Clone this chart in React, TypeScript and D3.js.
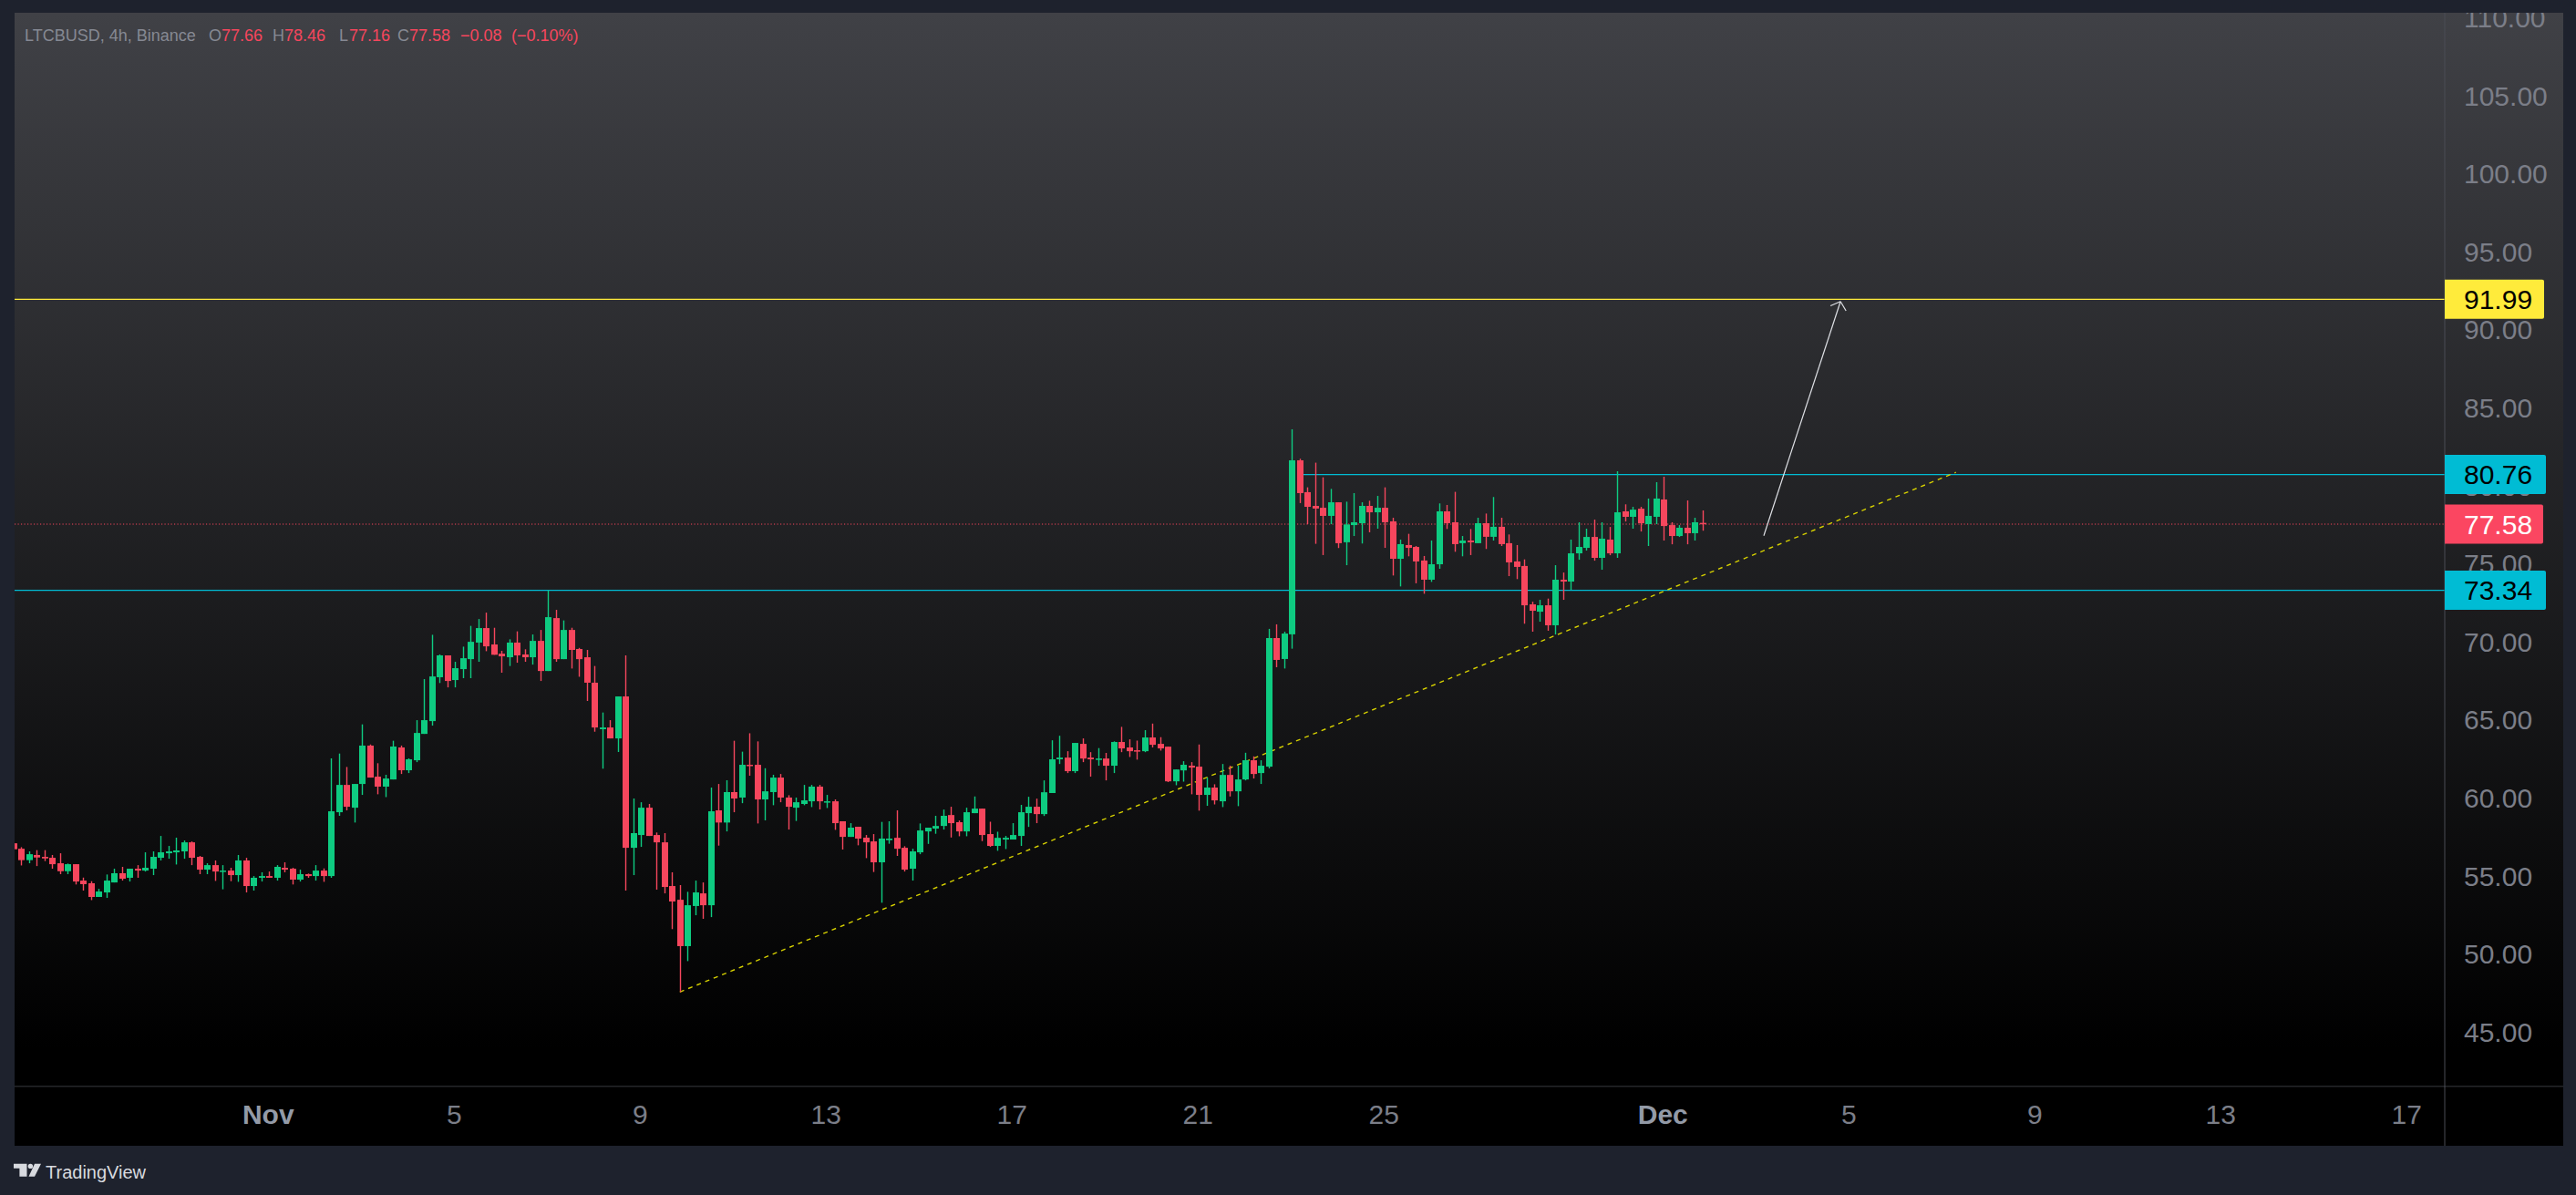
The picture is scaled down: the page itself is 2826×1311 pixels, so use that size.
// LTCBUSD 4h candlestick chart, dark TradingView style
import * as d3 from 'd3';

const opens = [
  57.13, 56.78, 56.05, 56.38, 56.26, 56.20, 55.85, 55.34, 55.79, 54.74,
  54.57, 53.69, 53.98, 54.62, 55.21, 54.92, 55.50, 55.38, 55.50, 56.20,
  56.49, 56.55, 56.61, 57.19, 56.26, 55.44, 55.73, 55.32, 55.38, 55.09,
  56.03, 54.39, 54.92, 55.03, 54.92, 55.56, 55.50, 54.80, 55.15, 55.03,
  55.38, 55.03, 59.12, 60.87, 59.41, 60.93, 63.39, 61.40, 60.76, 61.22,
  63.27, 61.81, 62.45, 64.14, 64.96, 67.77, 69.17, 67.59, 68.29, 68.93,
  69.99, 70.92, 69.87, 69.28, 69.05, 69.99, 69.23, 69.05, 70.10, 68.17,
  71.56, 68.93, 70.80, 69.58, 69.05, 67.42, 64.44, 64.55, 63.85, 66.54,
  56.84, 57.66, 59.41, 57.66, 57.19, 54.39, 53.51, 50.54, 53.11, 53.92,
  53.16, 59.24, 58.46, 60.41, 60.06, 62.16, 62.16, 59.94, 60.41, 61.34,
  60.06, 59.41, 59.65, 59.82, 60.76, 59.76, 59.82, 58.54, 57.54, 58.19,
  57.49, 57.25, 55.91, 57.33, 57.48, 56.84, 55.50, 56.55, 57.89, 58.07,
  58.24, 58.94, 58.48, 57.89, 59.06, 59.35, 57.72, 56.96, 57.37, 57.37,
  57.60, 59.06, 59.47, 59.00, 60.35, 62.51, 62.62, 61.75, 63.50, 62.62,
  62.51, 62.56, 62.10, 63.62, 63.27, 63.09, 63.03, 63.91, 63.50, 63.32,
  61.10, 61.80, 62.10, 62.04, 60.23, 60.70, 59.82, 61.51, 60.46, 61.22,
  62.45, 61.63, 62.04, 70.28, 68.94, 70.52, 81.67, 79.63, 78.75, 78.63,
  78.11, 78.98, 76.42, 77.52, 77.64, 78.75, 78.34, 78.63, 77.76, 75.36,
  76.24, 76.12, 75.25, 74.02, 75.01, 78.40, 77.70, 76.36, 76.53, 76.36,
  77.64, 76.77, 77.41, 76.36, 75.19, 74.90, 72.44, 71.97, 72.38, 71.10,
  74.02, 73.90, 75.71, 76.06, 76.76, 75.42, 76.59, 75.71, 78.40, 78.05,
  78.57, 77.58, 78.05, 79.16, 77.52, 76.82, 77.35, 77.00, 77.66,
];

const highs = [
  57.13, 56.88, 56.61, 56.69, 56.69, 56.38, 56.49, 55.83, 55.79, 54.93,
  54.70, 54.21, 55.13, 55.50, 55.62, 55.50, 55.73, 56.55, 56.61, 57.60,
  56.96, 57.49, 57.31, 57.25, 56.32, 55.85, 56.03, 55.73, 55.56, 56.38,
  56.20, 55.03, 55.27, 55.32, 55.73, 55.91, 55.56, 55.44, 55.19, 55.73,
  55.52, 62.57, 62.88, 62.02, 60.93, 64.75, 63.46, 62.26, 61.52, 63.70,
  63.39, 62.57, 65.02, 67.65, 70.49, 69.23, 69.17, 68.76, 69.73, 71.06,
  71.50, 71.91, 70.94, 69.46, 70.20, 70.71, 69.56, 70.51, 70.80, 73.34,
  72.09, 71.41, 70.94, 69.65, 69.52, 68.49, 65.51, 65.02, 66.54, 69.17,
  60.00, 59.76, 59.65, 57.82, 57.78, 55.27, 54.45, 54.02, 54.74, 54.62,
  60.70, 60.93, 61.17, 63.70, 63.00, 64.18, 63.66, 61.94, 61.52, 61.57,
  60.21, 60.06, 60.87, 60.87, 60.87, 60.23, 59.94, 58.54, 58.42, 58.19,
  57.66, 57.72, 58.50, 58.54, 59.24, 56.94, 56.78, 58.40, 58.13, 58.89,
  59.29, 59.47, 58.59, 59.41, 60.13, 59.35, 58.51, 57.87, 57.60, 58.42,
  59.59, 60.11, 59.99, 61.16, 63.73, 64.02, 63.03, 63.56, 63.85, 62.97,
  63.23, 62.92, 63.66, 64.59, 63.79, 63.71, 64.38, 64.80, 63.93, 63.32,
  61.86, 62.39, 62.33, 63.46, 61.34, 60.91, 62.21, 62.10, 62.10, 62.93,
  62.70, 62.45, 70.87, 71.16, 70.69, 83.66, 81.77, 79.94, 81.52, 80.58,
  79.84, 78.98, 79.02, 79.57, 78.98, 79.08, 79.39, 79.94, 77.99, 76.59,
  76.96, 76.18, 75.54, 76.53, 78.91, 78.81, 79.65, 76.82, 77.27, 77.99,
  78.26, 79.32, 77.99, 76.92, 76.24, 75.32, 72.61, 72.73, 72.81, 74.95,
  74.48, 76.59, 77.70, 77.29, 77.87, 77.70, 77.40, 80.97, 78.85, 78.69,
  78.69, 79.22, 80.27, 80.62, 77.70, 77.52, 79.10, 77.99, 78.46,
];

const lows = [
  56.75, 55.71, 55.85, 55.67, 55.99, 55.50, 55.15, 55.15, 54.49, 54.10,
  53.49, 53.69, 53.63, 54.62, 54.74, 54.68, 54.92, 55.32, 55.09, 56.03,
  56.14, 55.77, 56.14, 55.73, 55.15, 55.15, 54.72, 54.18, 54.70, 54.66,
  53.98, 54.10, 54.68, 54.92, 54.74, 55.27, 54.49, 54.68, 54.92, 54.74,
  54.66, 54.92, 58.89, 59.24, 58.46, 60.23, 61.34, 60.27, 60.09, 61.22,
  61.57, 61.63, 62.33, 64.14, 64.67, 67.40, 67.12, 67.12, 67.71, 67.71,
  68.76, 69.44, 69.21, 68.06, 68.49, 68.70, 68.76, 68.58, 67.53, 68.17,
  68.76, 68.93, 68.33, 67.80, 66.25, 64.28, 61.91, 63.85, 62.98, 54.10,
  55.09, 56.90, 57.60, 54.16, 53.92, 51.63, 47.60, 49.58, 52.52, 52.29,
  52.40, 56.98, 57.89, 59.12, 59.70, 61.46, 58.40, 58.60, 59.57, 59.76,
  58.01, 58.56, 59.57, 59.45, 59.30, 59.39, 57.99, 56.73, 57.54, 57.00,
  56.18, 55.29, 53.32, 57.10, 56.32, 55.32, 54.74, 56.43, 57.09, 57.74,
  58.01, 57.50, 57.58, 57.58, 59.06, 57.27, 56.90, 56.65, 56.76, 57.37,
  56.96, 58.18, 58.42, 58.88, 60.35, 62.21, 61.63, 61.63, 62.33, 61.40,
  62.10, 61.16, 61.63, 62.97, 62.66, 62.49, 62.97, 63.27, 63.07, 61.05,
  60.85, 61.08, 60.27, 59.22, 59.53, 59.62, 59.45, 60.13, 59.51, 61.16,
  61.28, 60.93, 61.93, 68.41, 68.33, 69.60, 78.93, 77.58, 76.32, 75.60,
  77.58, 76.05, 74.95, 76.82, 76.34, 77.06, 77.29, 76.06, 74.29, 73.59,
  75.52, 73.79, 73.12, 73.88, 74.72, 77.27, 75.81, 75.52, 75.60, 76.36,
  75.99, 76.53, 76.18, 74.25, 74.06, 71.20, 70.69, 71.33, 70.75, 70.51,
  72.73, 73.37, 75.30, 75.89, 75.24, 74.66, 75.59, 75.42, 77.75, 77.29,
  77.11, 76.18, 77.58, 76.53, 76.29, 76.76, 76.29, 76.53, 77.16,
];

const closes = [
  56.75, 56.05, 56.43, 56.22, 56.16, 55.79, 55.34, 55.79, 54.68, 54.51,
  53.69, 54.04, 54.74, 55.21, 54.86, 55.50, 55.38, 55.56, 56.26, 56.55,
  56.61, 56.67, 57.19, 56.20, 55.44, 55.73, 55.32, 55.38, 55.09, 56.03,
  54.39, 54.92, 55.03, 54.92, 55.62, 55.44, 54.80, 55.15, 55.03, 55.38,
  55.03, 59.18, 60.87, 59.47, 60.93, 63.39, 61.34, 60.76, 61.28, 63.33,
  61.81, 62.51, 64.20, 65.02, 67.82, 69.17, 67.53, 68.35, 68.99, 70.04,
  70.92, 69.75, 69.21, 69.11, 69.99, 69.17, 69.05, 70.10, 68.17, 71.62,
  68.93, 70.80, 69.52, 68.93, 67.42, 64.55, 64.55, 63.85, 66.54, 56.84,
  57.78, 59.41, 57.60, 57.19, 54.33, 53.40, 50.54, 53.16, 53.98, 53.16,
  59.18, 58.46, 60.41, 60.00, 62.16, 62.10, 59.94, 60.46, 61.34, 60.06,
  59.47, 59.76, 59.88, 60.76, 59.82, 59.82, 58.42, 57.54, 58.13, 57.43,
  57.19, 55.91, 57.43, 57.43, 56.78, 55.44, 56.61, 57.95, 58.13, 58.24,
  58.89, 58.42, 57.89, 59.12, 59.35, 57.66, 56.96, 57.48, 57.48, 57.66,
  59.12, 59.47, 59.00, 60.40, 62.51, 62.62, 61.75, 63.56, 62.56, 62.51,
  62.56, 62.10, 63.62, 63.21, 63.03, 63.05, 63.91, 63.44, 63.21, 61.10,
  61.86, 62.16, 61.98, 60.23, 60.70, 59.88, 61.51, 60.46, 61.22, 62.45,
  61.57, 62.10, 70.28, 68.88, 70.57, 81.67, 79.57, 78.69, 78.58, 78.11,
  78.98, 76.36, 77.56, 77.70, 78.75, 78.34, 78.63, 77.70, 75.36, 76.30,
  76.06, 75.19, 74.02, 75.01, 78.40, 77.64, 76.30, 76.53, 76.42, 77.64,
  76.77, 77.41, 76.30, 75.13, 74.84, 72.38, 72.03, 72.38, 71.10, 74.02,
  73.90, 75.71, 76.12, 76.76, 75.42, 76.65, 75.71, 78.34, 78.05, 78.51,
  77.64, 78.11, 79.22, 77.46, 76.82, 77.35, 77.00, 77.70, 77.58,
];

const priceTicks = [45, 50, 55, 60, 65, 70, 75, 80, 85, 90, 95, 100, 105, 110];
const dateTicks = ['Nov', '5', '9', '13', '17', '21', '25', 'Dec', '5', '9', '13', '17'];
const dateTickBars = [33, 57, 81, 105, 129, 153, 177, 213, 237, 261, 285, 309];

const targetLevel = 91.99;
const resistance = 80.76;
const resistanceStartBar = 166.3;
const support = 73.34;
const lastPrice = 77.58;
// [bar, price] anchors of the drawings
const trendLine: [number, number][] = [[86, 47.6], [250.7, 80.9]];
const arrowLine: [number, number][] = [[225.9, 76.84], [235.8, 91.85]];

const W = 2826;
const H = 1311;
const PANE = { left: 16, top: 14, right: 2682, bottom: 1192 };
const AXIS_RIGHT = 2812;
const FRAME_BOTTOM = 1257;

const COLORS = {
  frame: '#1e222d',
  up: '#0ecb81',
  down: '#f6465d',
  cyan: '#00bcd4',
  yellow: '#ffeb3b',
  trend: '#d6d000',
  arrow: '#dfe1e6',
  border: '#4a4d55',
  tick: '#7b7e88',
  tickBold: '#939aa7',
  header: '#868993',
  labelRed: '#fb4661',
};

const x = d3.scaleLinear().domain([0, 218]).range([14.8, 1867.8]);
const y = d3.scaleLinear().domain([45, 110]).range([1132.8, 20]);

const line = d3.line<[number, number]>()
  .x((d) => x(d[0]))
  .y((d) => y(d[1]));

const levelLabels = [
  { value: targetLevel, fill: COLORS.yellow, text: '#000', right: 2791 },
  { value: resistance, fill: COLORS.cyan, text: '#000', right: 2793 },
  { value: lastPrice, fill: COLORS.labelRed, text: '#fff', right: 2790 },
  { value: support, fill: COLORS.cyan, text: '#000', right: 2793 },
];

const FONT = '"Liberation Sans", Arial, sans-serif';

const headerParts = [
  { x: 27, text: 'LTCBUSD, 4h, Binance', fill: COLORS.header },
  { x: 229, text: 'O', fill: COLORS.header },
  { x: 243, text: '77.66', fill: COLORS.down },
  { x: 299, text: 'H', fill: COLORS.header },
  { x: 312, text: '78.46', fill: COLORS.down },
  { x: 372, text: 'L', fill: COLORS.header },
  { x: 383, text: '77.16', fill: COLORS.down },
  { x: 436, text: 'C', fill: COLORS.header },
  { x: 449, text: '77.58', fill: COLORS.down },
  { x: 505, text: '−0.08', fill: COLORS.down },
  { x: 561, text: '(−0.10%)', fill: COLORS.down },
];

function Arrow() {
  const tip: [number, number] = [x(arrowLine[1][0]), y(arrowLine[1][1])];
  const tail: [number, number] = [x(arrowLine[0][0]), y(arrowLine[0][1])];
  const angle = Math.atan2(tail[1] - tip[1], tail[0] - tip[0]);
  const barb = (spread: number) =>
    `M${tip[0]},${tip[1]}L${tip[0] + Math.cos(angle + spread) * 12},${tip[1] + Math.sin(angle + spread) * 12}`;
  return (
    <g stroke={COLORS.arrow} strokeWidth={1.2} fill="none">
      <path d={line(arrowLine) ?? ''} />
      <path d={barb(0.85)} />
      <path d={barb(-0.85)} />
    </g>
  );
}

export default function App() {
  return (
    <svg
      width={W}
      height={H}
      viewBox={`0 0 ${W} ${H}`}
      style={{ position: 'fixed', left: 0, top: 0, display: 'block' }}
      fontFamily={FONT}
    >
      <defs>
        <linearGradient id="paneBg" gradientUnits="userSpaceOnUse" x1="0" y1={PANE.top} x2="0" y2={1150}>
          <stop offset="0" stopColor="#404146" />
          <stop offset="1" stopColor="#000" />
        </linearGradient>
        <clipPath id="paneClip">
          <rect x={PANE.left} y={PANE.top} width={PANE.right - PANE.left} height={PANE.bottom - PANE.top} />
        </clipPath>
        <clipPath id="axisClip">
          <rect x={PANE.right} y={PANE.top} width={AXIS_RIGHT - PANE.right} height={PANE.bottom - PANE.top} />
        </clipPath>
      </defs>

      <rect width={W} height={H} fill={COLORS.frame} />
      <rect x={PANE.left} y={PANE.top} width={AXIS_RIGHT - PANE.left} height={FRAME_BOTTOM - PANE.top} fill="url(#paneBg)" />

      <g clipPath="url(#paneClip)">
        <line x1={PANE.left} x2={PANE.right} y1={y(targetLevel)} y2={y(targetLevel)} stroke={COLORS.yellow} strokeWidth={1.3} />
        <line x1={x(resistanceStartBar)} x2={PANE.right} y1={y(resistance)} y2={y(resistance)} stroke={COLORS.cyan} strokeWidth={1.3} />
        <line x1={PANE.left} x2={PANE.right} y1={y(support)} y2={y(support)} stroke={COLORS.cyan} strokeWidth={1.1} />
        <line x1={PANE.left} x2={PANE.right} y1={y(lastPrice)} y2={y(lastPrice)} stroke={COLORS.down} strokeWidth={1} strokeDasharray="1.2 2.3" />
        <path d={line(trendLine) ?? ''} fill="none" stroke={COLORS.trend} strokeWidth={1.4} strokeDasharray="5 5" />

        {opens.map((open, i) => {
          const close = closes[i];
          const color = close >= open ? COLORS.up : COLORS.down;
          const cx = Math.round(x(i));
          const top = y(Math.max(open, close));
          const bottom = y(Math.min(open, close));
          return (
            <g key={i} fill={color}>
              <rect x={cx - 0.2} width={1.4} y={y(highs[i])} height={y(lows[i]) - y(highs[i])} />
              <rect x={cx - 3} width={7} y={top} height={Math.max(bottom - top, 1.5)} />
            </g>
          );
        })}

        <Arrow />
      </g>

      {/* price axis */}
      <line x1={PANE.right} x2={PANE.right} y1={PANE.top} y2={FRAME_BOTTOM} stroke={COLORS.border} strokeWidth={1} />
      <g clipPath="url(#axisClip)" fontSize={30} fill={COLORS.tick}>
        {priceTicks.map((t) => (
          <text key={t} x={2703} y={y(t) - 0.5} dominantBaseline="central">{t.toFixed(2)}</text>
        ))}
      </g>
      {levelLabels.map((d) => {
        const cy = y(d.value);
        return (
          <g key={d.value}>
            <path
              d={`M${PANE.right},${cy - 21.5}H${d.right - 2}q2,0 2,2V${cy + 19.5}q0,2 -2,2H${PANE.right}Z`}
              fill={d.fill}
            />
            <text x={2703} y={cy} fontSize={30} fill={d.text} dominantBaseline="central">{d.value.toFixed(2)}</text>
          </g>
        );
      })}

      {/* time axis */}
      <line x1={PANE.left} x2={AXIS_RIGHT} y1={PANE.bottom} y2={PANE.bottom} stroke={COLORS.border} strokeWidth={1} />
      <rect x={PANE.left} y={PANE.bottom + 0.5} width={AXIS_RIGHT - PANE.left} height={FRAME_BOTTOM - PANE.bottom - 0.5} fill="#000" />
      <line x1={PANE.right} x2={PANE.right} y1={PANE.bottom} y2={FRAME_BOTTOM} stroke={COLORS.border} strokeWidth={1} />
      {dateTicks.map((label, i) => {
        const isMonth = label === 'Nov' || label === 'Dec';
        return (
          <text
            key={i}
            x={x(dateTickBars[i]) - 1}
            y={1222}
            textAnchor="middle"
            dominantBaseline="central"
            fontSize={30}
            fontWeight={isMonth ? 700 : 400}
            fill={isMonth ? COLORS.tickBold : COLORS.tick}
          >
            {label}
          </text>
        );
      })}

      {/* legend line */}
      <g fontSize={18}>
        {headerParts.map((p) => (
          <text key={p.x} x={p.x} y={39} fill={p.fill} dominantBaseline="central">{p.text}</text>
        ))}
      </g>

      {/* TradingView mark */}
      <g fill="#d8dadf">
        <path d="M15,1276.7H29.5V1290.7H21.4V1281.7H15Z" />
        <circle cx={33.4} cy={1279.4} r={2.7} />
        <path d="M38,1276.7H45L38,1290.7H31.5Z" />
        <text x={50} y={1286} fontSize={20} dominantBaseline="central">TradingView</text>
      </g>
    </svg>
  );
}
